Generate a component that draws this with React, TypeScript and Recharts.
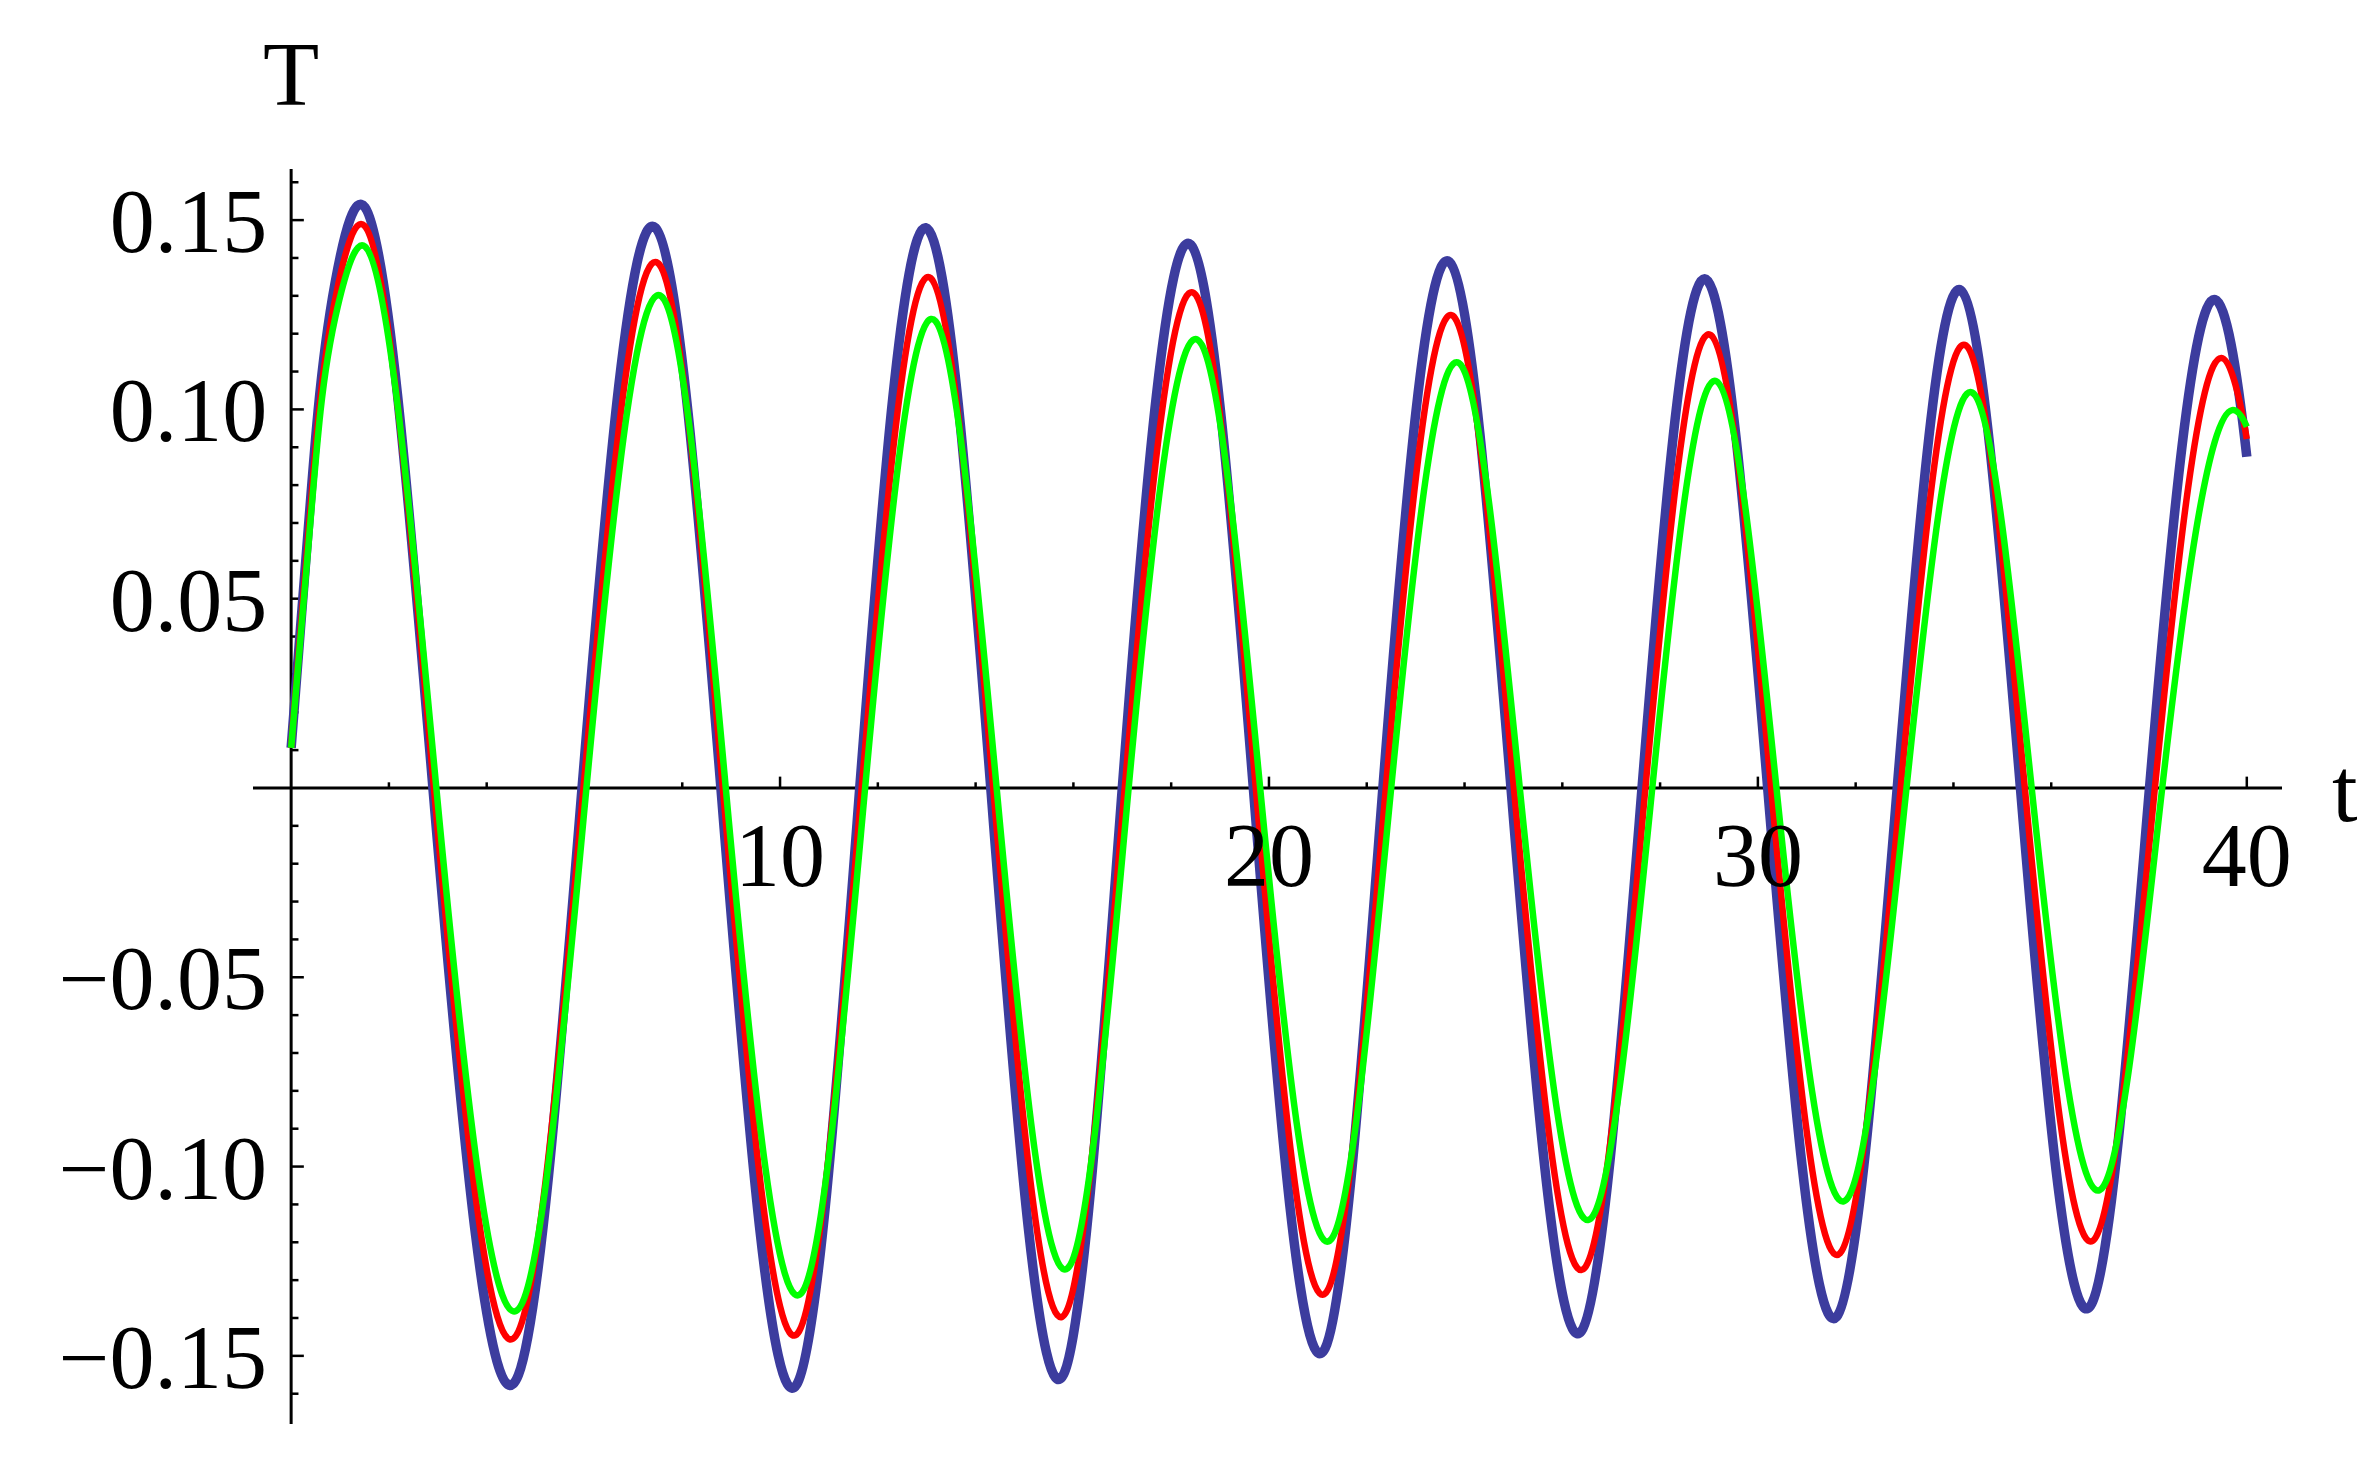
import React from 'react';
import { LineChart, Line, XAxis, YAxis, ReferenceLine, ReferenceDot } from 'recharts';

// blue curve (largest amplitude)
const blueT = [0, 0.33, 0.55, 0.9, 1.51, 2.9, 4.65, 5.95, 7.45, 8.79, 10.34, 11.63, 12.98, 14.31, 15.82, 17.0, 18.4, 19.68, 21.15, 22.33, 23.69, 24.95, 26.39, 27.63, 28.91, 30.2, 31.61, 32.85, 34.15, 35.37, 36.83, 38.01, 39.35, 40];
const blueV = [0.0106, 0.065, 0.0994, 0.1335, 0.1534, 0, -0.155, 0, 0.148, 0, -0.1576, 0, 0.148, 0, -0.1543, 0, 0.1435, 0, -0.148, 0, 0.139, 0, -0.1435, 0, 0.1345, 0, -0.1397, 0, 0.1315, 0, -0.1362, 0, 0.129, 0.0875];

// red curve
const redT = [0, 0.34, 0.57, 0.93, 1.5, 2.92, 4.65, 5.98, 7.57, 8.83, 10.39, 11.67, 13.08, 14.36, 15.86, 17.05, 18.55, 19.73, 21.22, 22.39, 23.81, 25.01, 26.48, 27.7, 29.04, 30.27, 31.68, 32.92, 34.3, 35.46, 36.89, 38.12, 39.48, 40];
const redV = [0.0106, 0.065, 0.0994, 0.131, 0.1485, 0, -0.1435, 0, 0.1375, 0, -0.1435, 0, 0.1347, 0, -0.1382, 0, 0.1292, 0, -0.1322, 0, 0.124, 0, -0.1264, 0, 0.1196, 0, -0.1229, 0, 0.1163, 0, -0.1191, 0, 0.1136, 0.0922];

// green curve (smallest amplitude)
const greenT = [0, 0.36, 0.6, 0.95, 1.51, 2.97, 4.77, 6.04, 7.68, 8.89, 10.5, 11.74, 13.18, 14.43, 15.98, 17.13, 18.63, 19.82, 21.31, 22.5, 23.95, 25.13, 26.63, 27.84, 29.17, 30.38, 31.84, 33.04, 34.45, 35.6, 37.08, 38.27, 39.7, 40];
const greenV = [0.0106, 0.065, 0.0994, 0.127, 0.143, 0, -0.1347, 0, 0.1277, 0, -0.1321, 0, 0.1233, 0, -0.1248, 0, 0.117, 0, -0.1185, 0, 0.1113, 0, -0.113, 0, 0.1073, 0, -0.1083, 0, 0.1036, 0, -0.105, 0, 0.0998, 0.0954];

const xTicks = [2, 4, 6, 8, 10, 12, 14, 16, 18, 20, 22, 24, 26, 28, 30, 32, 34, 36, 38, 40];
const xMajor = [10, 20, 30, 40];
const xLabels = ['10', '20', '30', '40'];

const yTicks = [-0.16, -0.15, -0.14, -0.13, -0.12, -0.11, -0.1, -0.09, -0.08, -0.07, -0.06, -0.05, -0.04, -0.03, -0.02, -0.01,
  0.01, 0.02, 0.03, 0.04, 0.05, 0.06, 0.07, 0.08, 0.09, 0.1, 0.11, 0.12, 0.13, 0.14, 0.15, 0.16];
const yMajor = [-0.15, -0.1, -0.05, 0.05, 0.1, 0.15];
const yLabels = ['\u22120.15', '\u22120.10', '\u22120.05', '0.05', '0.10', '0.15'];

const X_MIN = -0.78;
const X_MAX = 40.72;
const Y_MIN = -0.168;
const Y_MAX = 0.1635;

const toRows = (ts: number[], vs: number[]) => ts.map((t, i) => ({ t, T: vs[i] }));

const blueRows = toRows(blueT, blueV);
const redRows = toRows(redT, redV);
const greenRows = toRows(greenT, greenV);

// C2 cubic spline through the points; end slopes from a parabola through the 3 end points
// (the 'natural' curve forces zero curvature at t=0 and t=40, which bends the ends badly)
const splineCurve = (context: any) => {
    let px: number[] = [];
    let py: number[] = [];
    return {
        areaStart() {},
        areaEnd() {},
        lineStart() { px = []; py = []; },
        point(x: number, y: number) { px.push(+x); py.push(+y); },
        lineEnd() {
            const n = px.length;
            if (n === 0) return;
            context.moveTo(px[0], py[0]);
            if (n < 3) {
                for (let i = 1; i < n; i++) context.lineTo(px[i], py[i]);
                return;
            }
            const h: number[] = [];
            const d: number[] = [];
            for (let i = 0; i < n - 1; i++) {
                h.push(px[i + 1] - px[i]);
                d.push((py[i + 1] - py[i]) / h[i]);
            }
            const m: number[] = new Array(n).fill(0);
            m[0] = d[0] - (d[1] - d[0]) * h[0] / (h[0] + h[1]);
            m[n - 1] = d[n - 2] + (d[n - 2] - d[n - 3]) * h[n - 2] / (h[n - 3] + h[n - 2]);
            const k = n - 2;
            const a: number[] = [], b: number[] = [], c: number[] = [], r: number[] = [];
            for (let i = 1; i <= n - 2; i++) {
                a.push(1 / h[i - 1]);
                b.push(2 * (1 / h[i - 1] + 1 / h[i]));
                c.push(1 / h[i]);
                r.push(3 * (d[i - 1] / h[i - 1] + d[i] / h[i]));
            }
            r[0] -= a[0] * m[0];
            r[k - 1] -= c[k - 1] * m[n - 1];
            for (let i = 1; i < k; i++) {
                const w = a[i] / b[i - 1];
                b[i] -= w * c[i - 1];
                r[i] -= w * r[i - 1];
            }
            m[k] = r[k - 1] / b[k - 1];
            for (let i = k - 2; i >= 0; i--) m[i + 1] = (r[i] - c[i] * m[i + 2]) / b[i];
            for (let i = 0; i < n - 1; i++) {
                context.bezierCurveTo(
                    px[i] + h[i] / 3, py[i] + m[i] * h[i] / 3,
                    px[i + 1] - h[i] / 3, py[i + 1] - m[i + 1] * h[i] / 3,
                    px[i + 1], py[i + 1],
                );
            }
        },
    };
};

const font = 'Liberation Serif';
const textStyle = { fontSize: 90, fontFamily: font, fill: '#000' };

export default function App() {
    return (
        <div style={{ position: 'absolute', left: 0, top: 0, background: '#fff' }}>
            <LineChart width={2380} height={1461} margin={{ top: 169, right: 98, bottom: 37, left: 253 }}>
                <XAxis type="number" dataKey="t" domain={[X_MIN, X_MAX]} hide allowDataOverflow />
                <YAxis type="number" domain={[Y_MIN, Y_MAX]} hide allowDataOverflow />

                <ReferenceLine y={0} stroke="#000" strokeWidth={3} ifOverflow="visible" />
                <ReferenceLine x={0} stroke="#000" strokeWidth={3} ifOverflow="visible" />

                {yTicks.map((v) => (
                    <ReferenceLine
                        key={'yt' + v}
                        segment={[{ x: 0, y: v }, { x: yMajor.includes(v) ? 0.26 : 0.15, y: v }]}
                        stroke="#000"
                        strokeWidth={2.5}
                        ifOverflow="visible"
                    />
                ))}
                {xTicks.map((v) => (
                    <ReferenceLine
                        key={'xt' + v}
                        segment={[{ x: v, y: 0 }, { x: v, y: xMajor.includes(v) ? 0.003 : 0.0015 }]}
                        stroke="#000"
                        strokeWidth={2.5}
                        ifOverflow="visible"
                    />
                ))}

                {yMajor.map((v, i) => (
                    <ReferenceDot key={'yl' + v} x={0} y={v} r={0} fill="none" stroke="none" ifOverflow="visible"
                        label={{ value: yLabels[i], position: 'left', offset: 24, ...textStyle }} />
                ))}
                {xMajor.map((v, i) => (
                    <ReferenceDot key={'xl' + v} x={v} y={0} r={0} fill="none" stroke="none" ifOverflow="visible"
                        label={{ value: xLabels[i], position: 'bottom', offset: 34, ...textStyle }} />
                ))}

                <ReferenceDot x={0} y={Y_MAX} r={0} fill="none" stroke="none" ifOverflow="visible"
                    label={{ value: 'T', position: 'top', offset: 64, ...textStyle, fontSize: 92 }} />
                <ReferenceDot x={X_MAX} y={0} r={0} fill="none" stroke="none" ifOverflow="visible"
                    label={{ value: 't', position: 'right', offset: 50, ...textStyle, fontSize: 92 }} />

                <Line data={blueRows} dataKey="T" type={splineCurve as any} stroke="#3c3c9e" strokeWidth={9.5} dot={false} activeDot={false} isAnimationActive={false} />
                <Line data={redRows} dataKey="T" type={splineCurve as any} stroke="#ff0000" strokeWidth={6.5} dot={false} activeDot={false} isAnimationActive={false} />
                <Line data={greenRows} dataKey="T" type={splineCurve as any} stroke="#00ff00" strokeWidth={6.5} dot={false} activeDot={false} isAnimationActive={false} />
            </LineChart>
        </div>
    );
}
